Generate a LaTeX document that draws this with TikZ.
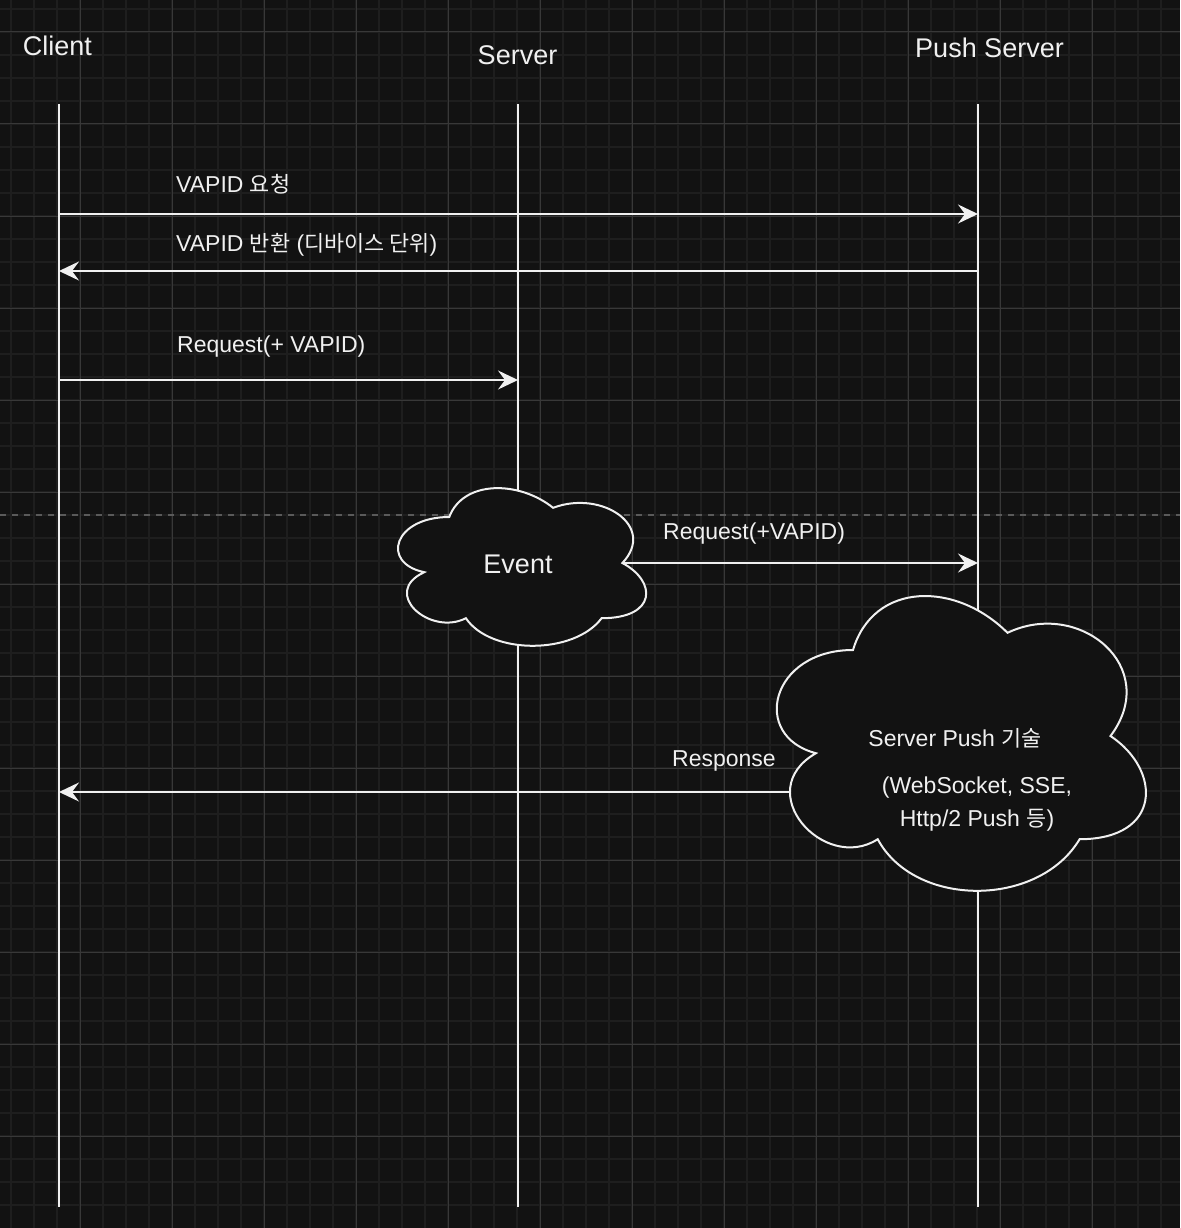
\documentclass[tikz,border=0pt]{standalone}
\usepackage{fontspec}
\setmainfont{Liberation Sans}
\newfontfamily\kr[Scale=0.95]{Noto Sans CJK KR}
\usepackage{tikz}
\usetikzlibrary{arrows.meta}

\definecolor{bgcol}{HTML}{121212}
\definecolor{minorgrid}{HTML}{1E1E1E}
\definecolor{majorgrid}{HTML}{383838}
\definecolor{linecol}{HTML}{F0F0F0}
\definecolor{dashcol}{HTML}{5A5A5A}

% draw.io style cloud: #1,#2 = top left corner, #3 = width, #4 = height
\newcommand{\cloudpath}[4]{%
  \filldraw[cloudline] ({#1+0.25*#3},{#2+0.25*#4})
    .. controls ({#1+0.05*#3},{#2+0.25*#4}) and ({#1},{#2+0.5*#4}) .. ({#1+0.16*#3},{#2+0.55*#4})
    .. controls ({#1},{#2+0.66*#4}) and ({#1+0.18*#3},{#2+0.9*#4}) .. ({#1+0.31*#3},{#2+0.8*#4})
    .. controls ({#1+0.4*#3},{#2+#4}) and ({#1+0.7*#3},{#2+#4}) .. ({#1+0.8*#3},{#2+0.8*#4})
    .. controls ({#1+#3},{#2+0.8*#4}) and ({#1+#3},{#2+0.6*#4}) .. ({#1+0.875*#3},{#2+0.5*#4})
    .. controls ({#1+#3},{#2+0.3*#4}) and ({#1+0.8*#3},{#2+0.1*#4}) .. ({#1+0.625*#3},{#2+0.2*#4})
    .. controls ({#1+0.5*#3},{#2+0.05*#4}) and ({#1+0.3*#3},{#2+0.05*#4}) .. ({#1+0.25*#3},{#2+0.25*#4})
    -- cycle;}

\begin{document}
\begin{tikzpicture}[x=1pt, y=-1pt,
  actor/.style={text=linecol, inner sep=0pt, font=\fontsize{27}{32}\selectfont},
  msglabel/.style={text=linecol, inner sep=0pt, anchor=base west, font=\fontsize{23}{33}\selectfont},
  lifeline/.style={draw=linecol, line width=2pt},
  msg/.style={draw=linecol, line width=2pt, -{Stealth[length=20pt, width=19pt, inset=7pt]}},
  cloudline/.style={draw=linecol, fill=bgcol, line width=2pt}]
  % background and grid
  \fill[bgcol] (0,0) rectangle (1180,1228);
  \useasboundingbox (0,0) rectangle (1180,1228);
  \foreach \i in {0,...,50}
    \draw[minorgrid, line width=1.4pt] ({11+23*\i},0) -- ({11+23*\i},1228);
  \foreach \i in {0,...,52}
    \draw[minorgrid, line width=1.4pt] (0,{9+23*\i}) -- (1180,{9+23*\i});
  \foreach \i in {0,...,11}
    \draw[majorgrid, line width=1pt] ({80+92*\i},0) -- ({80+92*\i},1228);
  \foreach \i in {0,...,12}
    \draw[majorgrid, line width=1pt] (0,{32+92*\i}) -- (1180,{32+92*\i});
  \draw[dashcol, line width=1.2pt, dash pattern=on 6pt off 6pt] (0,515) -- (1180,515);

  % participants
  \node[actor, anchor=base] (client) at (57.5,56) {Client};
  \node[actor, anchor=base] (server) at (517.5,65) {Server};
  \node[actor, anchor=base] (push) at (989.5,58) {Push Server};
  \coordinate (client top) at (59,104);
  \coordinate (client bottom) at (59,1207);
  \coordinate (server top) at (518,104);
  \coordinate (server bottom) at (518,1207);
  \coordinate (push top) at (978,104);
  \coordinate (push bottom) at (978,1207);
  \draw[lifeline] (client top) -- (client bottom);
  \draw[lifeline] (server top) -- (server bottom);
  \draw[lifeline] (push top) -- (push bottom);

  % clouds
  \cloudpath{380}{471}{277}{184}
  \node[actor, anchor=base] (event) at (518,573) {Event};
  \coordinate (event right) at (622.4,563);
  \cloudpath{750}{564}{412}{344}
  \node[msglabel, anchor=base, align=center] (tech) at (977,826)
    {Server Push {\kr 기술}\hspace*{44pt}\\[14pt] (WebSocket, SSE,\\ Http/2 Push {\kr 등})};
  \coordinate (tech left) at (789,792);

  % messages
  \coordinate (y1) at (0,214);
  \coordinate (y2) at (0,271);
  \coordinate (y3) at (0,380);
  \draw[msg] (client top |- y1) -- (push top |- y1);
  \node[msglabel] (vapid req) at (176,192) {VAPID {\kr 요청}};
  \draw[msg] (push top |- y2) -- (client top |- y2);
  \node[msglabel] (vapid ret) at (176,251) {VAPID {\kr 반환} ({\kr 디바이스 단위})};
  \draw[msg] (client top |- y3) -- (server top |- y3);
  \node[msglabel] (req client) at (177,352.5) {Request(+ VAPID)};
  \draw[msg] (event right) -- (push top |- event right);
  \node[msglabel] (req server) at (663,539) {Request(+VAPID)};
  \draw[msg] (tech left) -- (client top |- tech left);
  \node[msglabel] (response) at (672,766) {Response};
\end{tikzpicture}
\end{document}
